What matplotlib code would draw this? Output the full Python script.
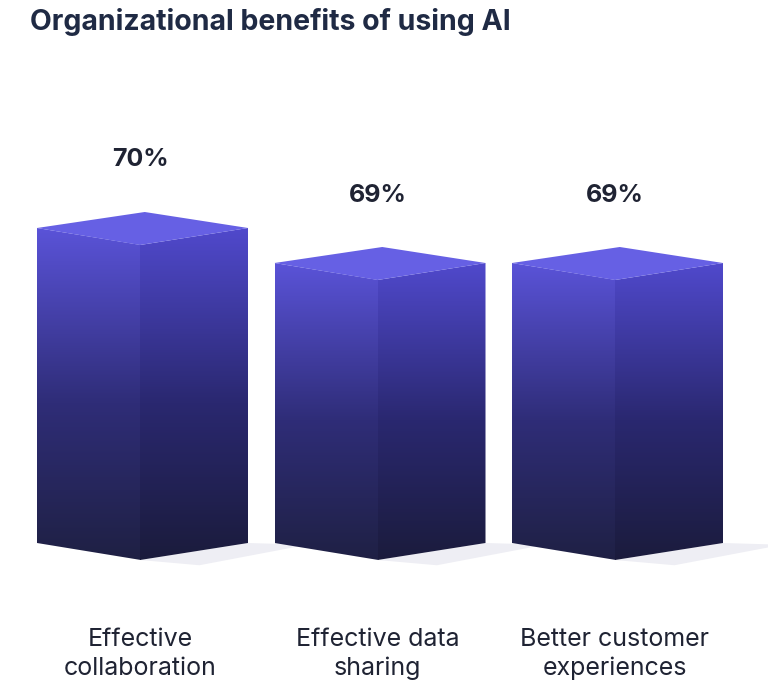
import numpy as np
import matplotlib
matplotlib.use("Agg")
import matplotlib.pyplot as plt
from matplotlib.patches import Polygon
from matplotlib.colors import LinearSegmentedColormap

categories = ["Effective\ncollaboration", "Effective data\nsharing", "Better customer\nexperiences"]
values = [70, 69, 69]
labels = ["70%", "69%", "69%"]
title = "Organizational benefits of using AI"

plt.rcParams['font.family'] = ['Inter', 'DejaVu Sans']
fig = plt.figure(figsize=(7.68, 6.94), dpi=100)
ax = fig.add_axes([0, 0, 1, 1])
PX = 237.5           # px per x unit
PY = 35.0            # px per value unit
base = 61.0
ax.set_xlim(-140 / PX, (768 - 140) / PX)
ax.set_ylim(base - 134 / PY, base + 560 / PY)
ax.axis('off')

wl, wr = 103 / PX, 108 / PX
d1, d2 = 17 / PY, 33 / PY

front_cm = LinearSegmentedColormap.from_list("f", ["#1d1f3e", "#2f2d78", "#5a53d8"])
side_cm = LinearSegmentedColormap.from_list("s", ["#191a36", "#2a2870", "#5049cc"])
grad = np.linspace(0, 1, 256).reshape(-1, 1)

def face(pts, cmap, ext=0.0):
    poly = Polygon(pts, closed=True, facecolor='none', edgecolor='none')
    ax.add_patch(poly)
    xs = [p[0] for p in pts]; ys = [p[1] for p in pts]
    im = ax.imshow(grad, cmap=cmap, origin='lower', aspect='auto',
                   extent=(min(xs), max(xs), base - d1, max(ys)), zorder=2)
    im.set_clip_path(poly)

for i, v in enumerate(values):
    x = i
    ax.add_patch(Polygon([(x, base), (x + wr, base + d1), (x + wr + 0.25, base + d1 - 0.05),
                          (x + 0.25, base - 0.15)], closed=True, facecolor='#eeeef4',
                         edgecolor='none', zorder=1))
    e = 0.004
    face([(x - wl, base + d1), (x + e, base), (x + e, v), (x - wl, v + d1)], front_cm)
    face([(x, base), (x + wr, base + d1), (x + wr, v + d1), (x, v)], side_cm)
    ax.add_patch(Polygon([(x, v), (x - wl, v + d1), (x + 0.02, v + d2), (x + wr, v + d1)],
                         closed=True, facecolor='#6660e4', edgecolor='none', zorder=3))
    ax.text(x, v + 85 / PY, labels[i], ha='center', va='center', fontsize=18,
            fontweight='bold', color='#1f2333')
    ax.text(x, base - 94 / PY, categories[i], ha='center', va='center', fontsize=18,
            color='#1f2333', linespacing=1.3)

fig.text(30 / 768, 1 - 22 / 694, title, ha='left', va='center', fontsize=20.5,
         fontweight='bold', color='#1f2a44')
fig.savefig("out.png", dpi=100, facecolor='white')
